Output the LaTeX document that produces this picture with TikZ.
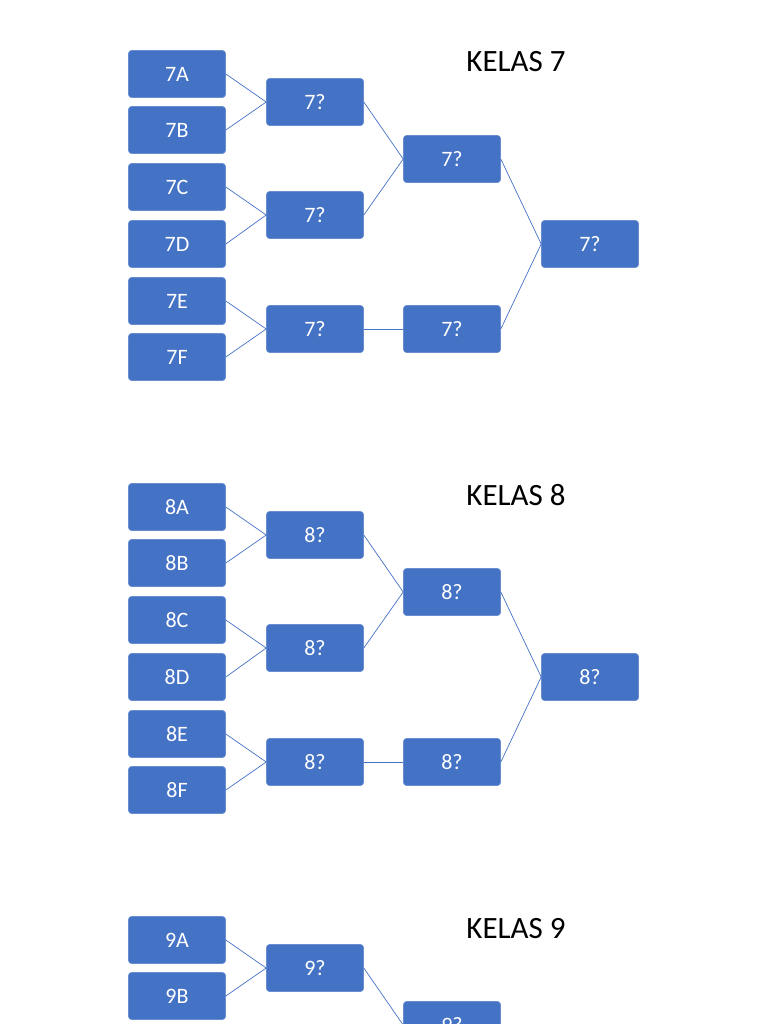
\documentclass[tikz,border=0pt]{standalone}
\usepackage{fontspec}
\setmainfont{Carlito}
\definecolor{boxblue}{HTML}{4472C4}
\begin{document}
\begin{tikzpicture}[x=1pt,y=-1pt,
  bx/.style={fill=boxblue,draw=boxblue!80!white,line width=0.6pt,rounded corners=3pt,minimum width=97pt,minimum height=47pt,inner sep=0pt,text=white,font=\fontsize{22}{26}\selectfont},
  ln/.style={draw=boxblue,line width=0.7pt},
  ttl/.style={font=\fontsize{31}{36}\selectfont,text=black}]
\useasboundingbox (0,0) rectangle (768,1024);
\clip (0,0) rectangle (768,1024);
\foreach \k/\o in {7/0,8/433}{
  \node[ttl] (t\k) at (516,62+\o) {KELAS \k};
  \node[bx] (a\k) at (177,74+\o) {\k A};
  \node[bx] (b\k) at (177,130+\o) {\k B};
  \node[bx] (c\k) at (177,187+\o) {\k C};
  \node[bx] (d\k) at (177,244+\o) {\k D};
  \node[bx] (e\k) at (177,301+\o) {\k E};
  \node[bx] (f\k) at (177,357+\o) {\k F};
  \node[bx] (p\k) at (315,102+\o) {\k?};
  \node[bx] (q\k) at (315,215+\o) {\k?};
  \node[bx] (r\k) at (315,329+\o) {\k?};
  \node[bx] (s\k) at (452,159+\o) {\k?};
  \node[bx] (u\k) at (452,329+\o) {\k?};
  \node[bx] (w\k) at (590,244+\o) {\k?};
  \draw[ln] (a\k.east) -- (p\k.west);
  \draw[ln] (b\k.east) -- (p\k.west);
  \draw[ln] (c\k.east) -- (q\k.west);
  \draw[ln] (d\k.east) -- (q\k.west);
  \draw[ln] (e\k.east) -- (r\k.west);
  \draw[ln] (f\k.east) -- (r\k.west);
  \draw[ln] (p\k.east) -- (s\k.west);
  \draw[ln] (q\k.east) -- (s\k.west);
  \draw[ln] (r\k.east) -- (u\k.west);
  \draw[ln] (s\k.east) -- (w\k.west);
  \draw[ln] (u\k.east) -- (w\k.west);
}
\node[ttl] (t9) at (516,929) {KELAS 9};
\node[bx] (a9) at (177,940) {9A};
\node[bx] (b9) at (177,996) {9B};
\node[bx] (p9) at (315,968) {9?};
\node[bx] (s9) at (452,1025) {9?};
\draw[ln] (a9.east) -- (p9.west);
\draw[ln] (b9.east) -- (p9.west);
\draw[ln] (p9.east) -- (s9.west);
\end{tikzpicture}
\end{document}
